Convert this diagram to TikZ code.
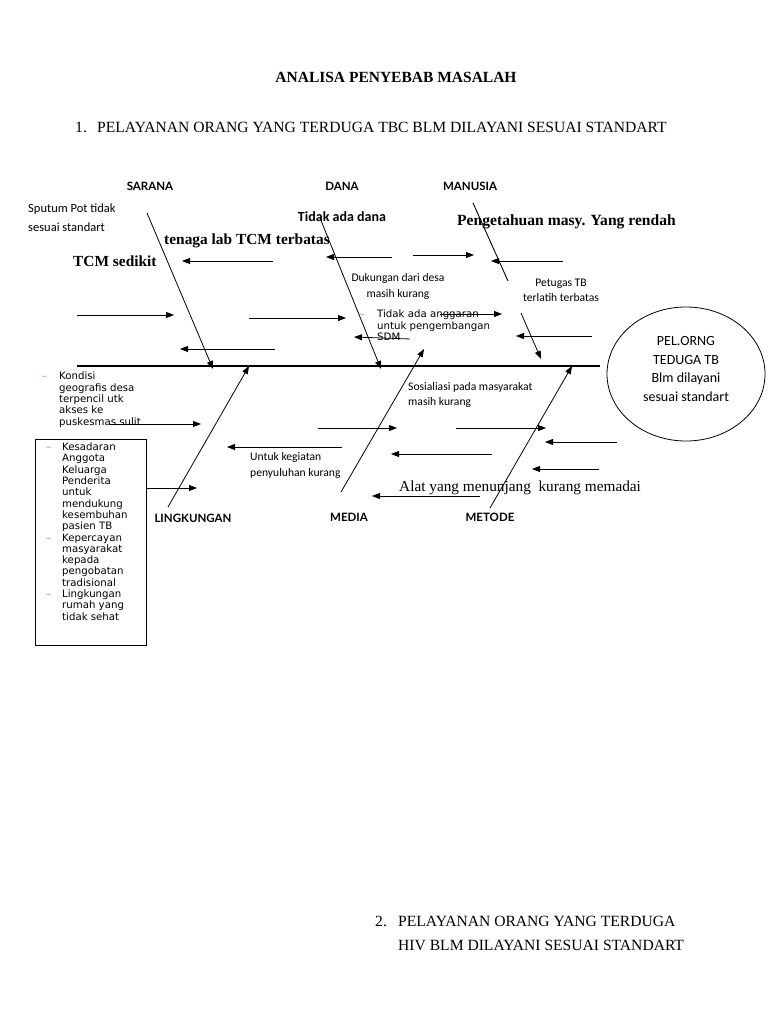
\documentclass[tikz,border=0pt]{standalone}
\usepackage{fontspec}
\setmainfont{Liberation Serif}
\newfontfamily\calfont{Carlito}
\newfontfamily\latofont{Lato}
\newfontfamily\dvfont{DejaVu Sans}
\usetikzlibrary{arrows.meta}
\definecolor{dashor}{RGB}{237,125,49}
\begin{document}
\begin{tikzpicture}[x=1pt,y=-1pt,
  arr/.style={-{Triangle[length=8pt,width=6pt]}, line width=0.8pt},
  rib/.style={line width=0.9pt},
  cat/.style={font=\latofont\bfseries\fontsize{11.5}{13}\selectfont, inner sep=0},
  cal/.style={font=\calfont\fontsize{11.6}{15.5}\selectfont, inner sep=0},
  dv/.style={font=\dvfont\fontsize{10.2}{11.3}\selectfont, inner sep=0},
  bser/.style={font=\bfseries\fontsize{15.4}{17}\selectfont, inner sep=0},
  ser/.style={font=\fontsize{15.6}{24}\selectfont, inner sep=0}]
\useasboundingbox (0,0) rectangle (768,1024);
\fill[white] (0,0) rectangle (768,1024);

% titles
\node[font=\bfseries\fontsize{15.5}{17}\selectfont, inner sep=0] (title) at (396,77) {ANALISA PENYEBAB MASALAH};
\node[ser, anchor=west] (n1) at (75,127) {1.};
\node[ser, anchor=west] (t1) at (97,127) {PELAYANAN ORANG YANG TERDUGA TBC BLM DILAYANI SESUAI STANDART};
\node[ser, anchor=west] (n2) at (375,921) {2.};
\node[ser, anchor=west] (t2a) at (398,921) {PELAYANAN ORANG YANG TERDUGA};
\node[ser, anchor=west] (t2b) at (398,945) {HIV BLM DILAYANI SESUAI STANDART};

% spine and head
\coordinate (sp0) at (77,366);
\coordinate (sp1) at (600,366);
\draw[line width=2.4pt] (sp0) -- (sp1);
\draw[line width=0.8pt] (686,374) ellipse [x radius=79, y radius=67];
\node[font=\calfont\fontsize{14}{18.4}\selectfont, align=center, inner sep=0] (head) at (686,369)
  {PEL.ORNG\\TEDUGA TB\\Blm dilayani\\sesuai standart};

% category labels
\node[cat] (sarana) at (150,186) {SARANA};
\node[cat] (dana) at (342,186) {DANA};
\node[cat] (manusia) at (470,186) {MANUSIA};
\node[cat] (lingk) at (193,518) {LINGKUNGAN};
\node[cat] (media) at (349,517) {MEDIA};
\node[cat] (metode) at (490,517) {METODE};

% ribs
\coordinate (r1a) at (147,213); \coordinate (r1b) at (213,369);
\coordinate (r2a) at (320,218); \coordinate (r2b) at (381,369);
\coordinate (r3a) at (473,203); \coordinate (r3b) at (508,281);
\coordinate (r3c) at (521,313); \coordinate (r3d) at (541,359);
\coordinate (r4a) at (168,507); \coordinate (r4b) at (249,366);
\coordinate (r5a) at (341,492); \coordinate (r5b) at (424,349);
\coordinate (r6a) at (490,508); \coordinate (r6b) at (572,366);
\draw[arr] (r1a) -- (r1b);
\draw[arr] (r2a) -- (r2b);
\draw[rib] (r3a) -- (r3b);
\draw[arr] (r3c) -- (r3d);
\draw[arr] (r4a) -- (r4b);
\draw[arr] (r5a) -- (r5b);
\draw[arr] (r6a) -- (r6b);

% horizontal arrows
\draw[arr] (273,261) -- (182,261);
\draw[arr] (392,257) -- (326,257);
\draw[arr] (413,255) -- (474,255);
\draw[arr] (563,261) -- (491,261);
\draw[arr] (77,315) -- (174,315);
\draw[arr] (249,318) -- (346,318);
\draw[arr] (275,349) -- (180,349);
\draw[arr] (440,314) -- (502,314);
\draw[arr] (410,339) -- (354,337);
\draw[arr] (592,336) -- (516,336);
\draw[arr] (110,424) -- (201,424);
\draw[arr] (146,488) -- (197,488);
\draw[arr] (342,447) -- (227,447);
\draw[arr] (318,428) -- (397,428);
\draw[arr] (456,428) -- (546,428);
\draw[arr] (492,454) -- (391,454);
\draw[arr] (617,442) -- (545,442);
\draw[arr] (599,469) -- (532,469);
\draw[arr] (480,496) -- (372,496);

% cause texts
\node[font=\calfont\fontsize{12.5}{19}\selectfont, align=left, inner sep=0, anchor=west] (sputum) at (28,217.5)
  {Sputum Pot tidak\\sesuai standart};
\node[font=\calfont\bfseries\fontsize{14}{15}\selectfont, inner sep=0] (tdana) at (342,217) {Tidak ada dana};
\node[bser] (tenaga) at (247,241) {tenaga lab TCM terbatas};
\node[bser, anchor=west] (tcm) at (73,261) {TCM sedikit};
\node[bser, font=\bfseries\fontsize{15.6}{17}\selectfont, anchor=west] (penget) at (457,222) {Pengetahuan masy. Yang rendah};
\node[cal, align=center] (dukung) at (398,286.5) {Dukungan dari desa\\masih kurang};
\node[cal, align=center] (petugas) at (561,290.5) {Petugas TB\\terlatih terbatas};
\node[dv, text=dashor, anchor=west] (d0) at (360,316) {–};
\node[dv, align=left, anchor=north west] (anggaran) at (377,310) {Tidak ada anggaran\\untuk pengembangan\\SDM};
\node[cal, align=left, anchor=west] (sosial) at (408,395) {Sosialiasi pada masyarakat\\masih kurang};
\node[cal, align=left, anchor=west] (untuk) at (250,465.5) {Untuk kegiatan\\penyuluhan kurang};
\node[font=\fontsize{15.3}{17}\selectfont, inner sep=0, anchor=west] (alat) at (399,488) {Alat yang menunjang\ \ kurang memadai};

% left list
\node[dv, text=dashor, anchor=west] (d1) at (42,378) {–};
\node[dv, align=left, anchor=north west] (kondisi) at (59,372) {Kondisi\\geografis desa\\terpencil utk\\akses ke\\puskesmas sulit};

\draw[line width=0.8pt] (35,439) rectangle (146,645);
\node[dv, anchor=north west, inner sep=0] (box) at (46,442.5) {%
  \def\arraystretch{1}\setlength{\tabcolsep}{0pt}%
  \begin{tabular}{@{}p{16pt}@{}l@{}}
  \textcolor{dashor}{–} & Kesadaran\\
   & Anggota\\
   & Keluarga\\
   & Penderita\\
   & untuk\\
   & mendukung\\
   & kesembuhan\\
   & pasien TB\\
  \textcolor{dashor}{–} & Kepercayan\\
   & masyarakat\\
   & kepada\\
   & pengobatan\\
   & tradisional\\
  \textcolor{dashor}{–} & Lingkungan\\
   & rumah yang\\
   & tidak sehat
  \end{tabular}};
\end{tikzpicture}
\end{document}
